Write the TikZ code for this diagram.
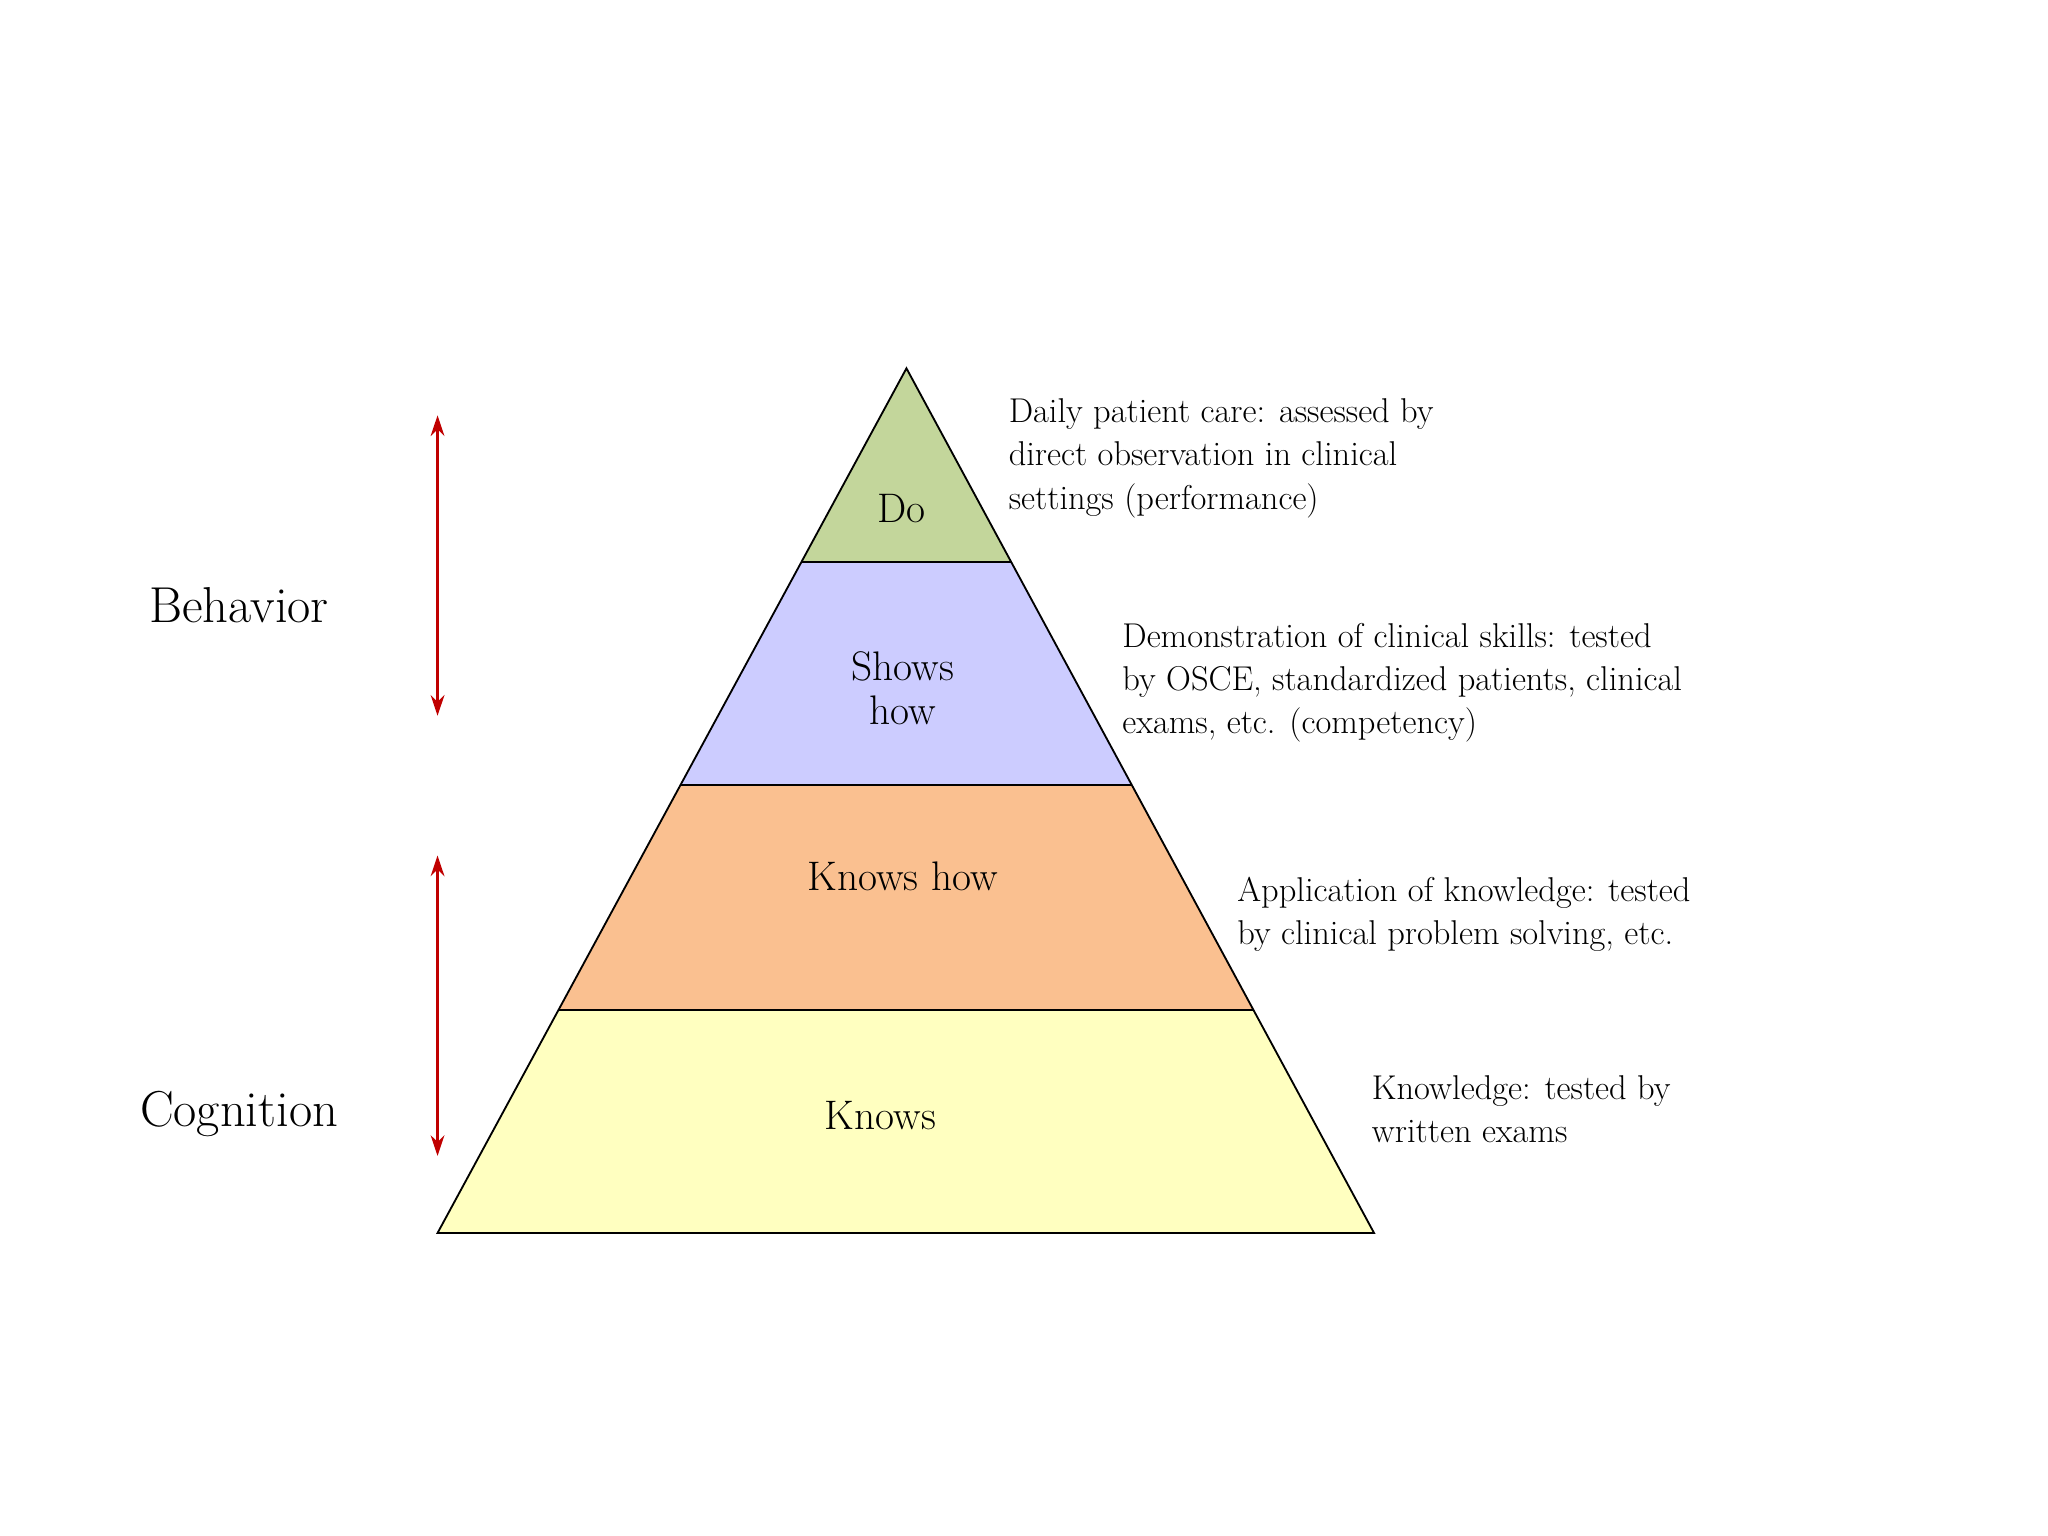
\documentclass[tikz,border=0pt]{standalone}
\usetikzlibrary{arrows.meta}
\definecolor{cdo}{HTML}{C3D69B}
\definecolor{cshow}{HTML}{CCCCFF}
\definecolor{ckh}{HTML}{FAC090}
\definecolor{ck}{HTML}{FFFFC0}
\definecolor{cred}{HTML}{C00000}
\tikzset{
  layer/.style={draw=black, line width=0.8pt},
  lbl/.style={font=\fontsize{18}{19}\selectfont, align=center},
  desc/.style={anchor=north west, align=left, inner sep=0pt, font=\fontsize{15}{18.8}\selectfont},
  side/.style={font=\fontsize{22}{24}\selectfont},
  rarrow/.style={draw=cred, line width=1pt, {Stealth[length=9pt,width=6pt]}-{Stealth[length=9pt,width=6pt]}}
}
\begin{document}
\begin{tikzpicture}[x=0.02cm,y=-0.02cm]
\useasboundingbox (0,0) rectangle (1568,1176);
\fill[white] (0,0) rectangle (1568,1176);
\fill[cdo] (694,282) -- (774,430) -- (614,430) -- cycle;
\fill[cshow] (614,430) -- (774,430) -- (867,601) -- (521,601) -- cycle;
\fill[ckh] (521,601) -- (867,601) -- (960,773) -- (428,773) -- cycle;
\fill[ck] (428,773) -- (960,773) -- (1052,944) -- (335,944) -- cycle;
\draw[layer] (694,282) -- (1052,944) -- (335,944) -- cycle;
\draw[layer] (614,430) -- (774,430);
\draw[layer] (521,601) -- (867,601);
\draw[layer] (428,773) -- (960,773);
\node[lbl] (do) at (690,389) {Do};
\node[lbl] (sh) at (691,527) {Shows\\how};
\node[lbl] (kh) at (691,671) {Knows how};
\node[lbl] (kn) at (674,854) {Knows};
\node[desc] (d1) at (772,305) {Daily patient care: assessed by\\direct observation in clinical\\settings (performance)};
\node[desc] (d2) at (859,477) {Demonstration of clinical skills: tested\\by OSCE, standardized patients, clinical\\exams, etc. (competency)};
\node[desc] (d3) at (947,671) {Application of knowledge: tested\\by clinical problem solving, etc.};
\node[desc] (d4) at (1050,823) {Knowledge: tested by\\written exams};
\node[side] (beh) at (183,463) {Behavior};
\node[side] (cog) at (183,853) {Cognition};
\coordinate (a1) at (335,318); \coordinate (a2) at (335,548);
\coordinate (b1) at (335,655); \coordinate (b2) at (335,885);
\draw[rarrow] (a1) -- (a2);
\draw[rarrow] (b1) -- (b2);
\end{tikzpicture}
\end{document}
